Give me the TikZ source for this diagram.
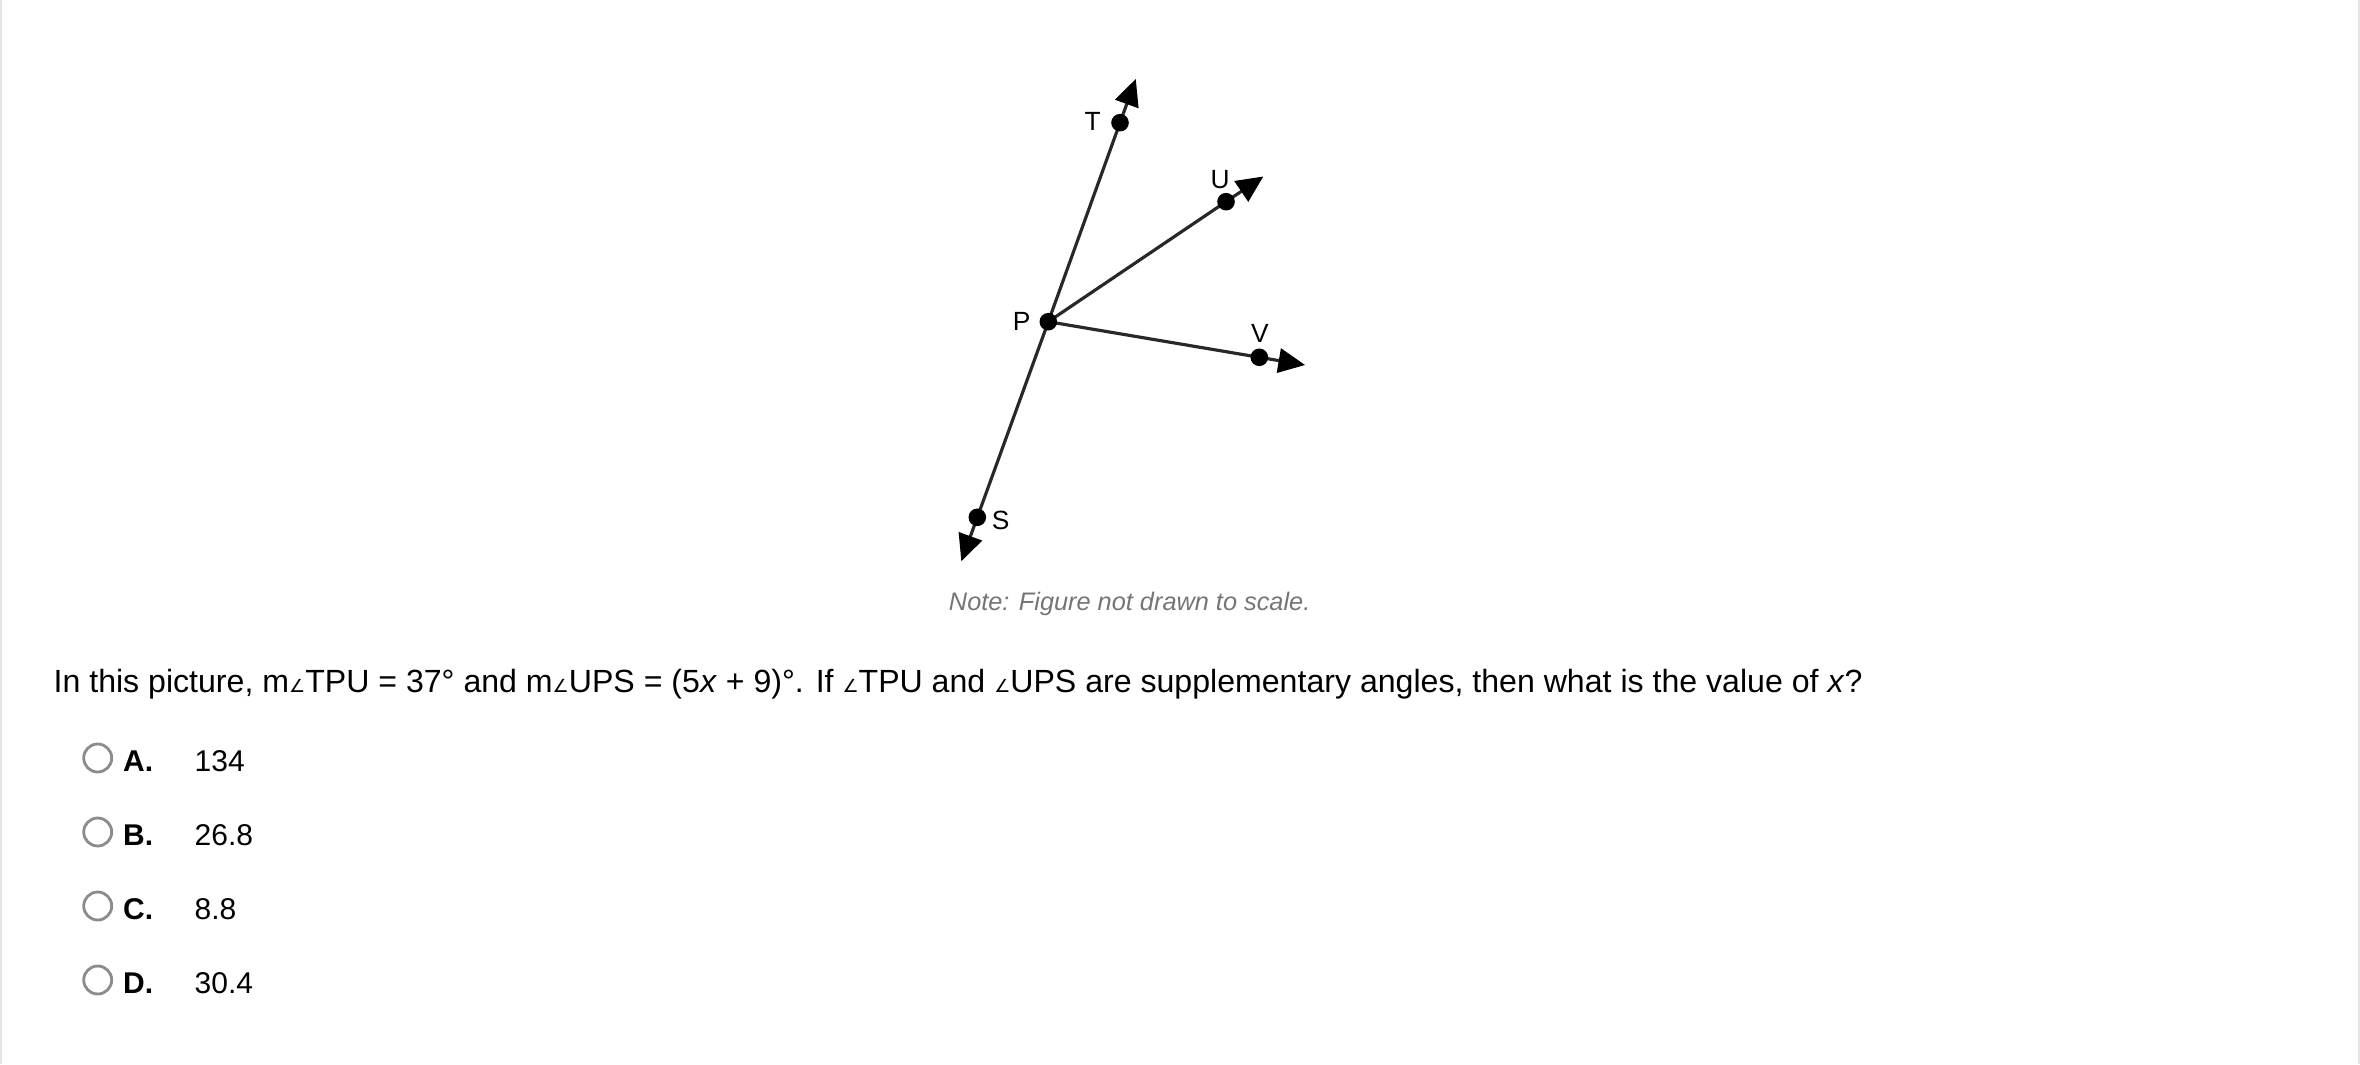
\documentclass[tikz,border=0pt]{standalone}
\usepackage{fontspec}
\setmainfont{Liberation Sans}
\newfontfamily\symfont{DejaVu Sans}
\usepackage{xcolor}
\usetikzlibrary{arrows.meta}
\usetikzlibrary{calc}

\newcommand{\angsym}{{\symfont\fontsize{5.4pt}{6pt}\selectfont ∠}}

\definecolor{notegray}{RGB}{117,117,117}
\definecolor{radiogray}{RGB}{140,140,140}
\definecolor{edgegray}{RGB}{229,229,229}
\definecolor{raygray}{RGB}{40,40,40}

\tikzset{
  ray/.style={draw=raygray, line width=0.95pt, -{Triangle[length=8pt,width=7.3pt,color=black]}},
  dot/.style={fill=black},
  ptlabel/.style={inner sep=0pt, font=\fontsize{7.9pt}{9pt}\selectfont},
  radio/.style={draw=radiogray, line width=0.85pt},
  question/.style={anchor=base west, inner sep=0pt, font=\fontsize{9.63pt}{12pt}\selectfont},
  answer/.style={anchor=base west, inner sep=0pt, font=\fontsize{9pt}{11pt}\selectfont}
}

\begin{document}
\begin{tikzpicture}[x=0.3pt,y=0.3pt,yscale=-1,xscale=1]
\useasboundingbox (0,0) rectangle (2360,1064);

%Shape: side edges
\fill [edgegray] (0,0) rectangle (2,1064);
\fill [edgegray] (2358,0) rectangle (2360,1064);

%Points
\coordinate (P) at (1048.3,321.7);
\coordinate (T) at (1120,122.7);
\coordinate (U) at (1226,201.7);
\coordinate (V) at (1259.3,357.3);
\coordinate (S) at (977.3,517.3);

%Straight Lines (rays from P)
\draw [ray] (P) -- ($(P)!1.22!(T)$);
\draw [ray] (P) -- ($(P)!1.21!(U)$);
\draw [ray] (P) -- ($(P)!1.217!(V)$);
\draw [ray] (P) -- ($(P)!1.225!(S)$);

%Shape: Circles on the rays
\foreach \pt in {P,T,U,V,S}
  \fill [dot] (\pt) circle (8.8);

% Point labels
\node [ptlabel] (lblT) at (1092.7,121.7) {T};
\node [ptlabel] (lblU) at (1220,180) {U};
\node [ptlabel] (lblP) at (1021.7,321.7) {P};
\node [ptlabel] (lblV) at (1260,333.3) {V};
\node [ptlabel] (lblS) at (1000.7,520) {S};

% Text Node
\node [anchor=base west, inner sep=0pt, text=notegray, font=\fontsize{7.6pt}{9pt}\selectfont\itshape] (note) at (948.3,610.7) {Note: Figure not drawn to scale.};

% Text Node
\node [question] (stem) at (53,692.7) {In this picture, m\angsym TPU = 37° and m\angsym UPS = (5\textit{x} + 9)°. If \angsym TPU and \angsym UPS are supplementary angles, then what is the value of \textit{x}?};

% Answer choices
\foreach \y/\lbl/\val [count=\i] in {771/A./134, 845/B./26.8, 919/C./8.8, 993/D./30.4}{
  \draw [radio] (97.7,\y-13) circle (14);
  \node [answer, font=\fontsize{9pt}{11pt}\selectfont\bfseries] (key\i) at (122.5,\y) {\lbl};
  \node [answer] (val\i) at (194,\y) {\val};
}

\end{tikzpicture}
\end{document}
